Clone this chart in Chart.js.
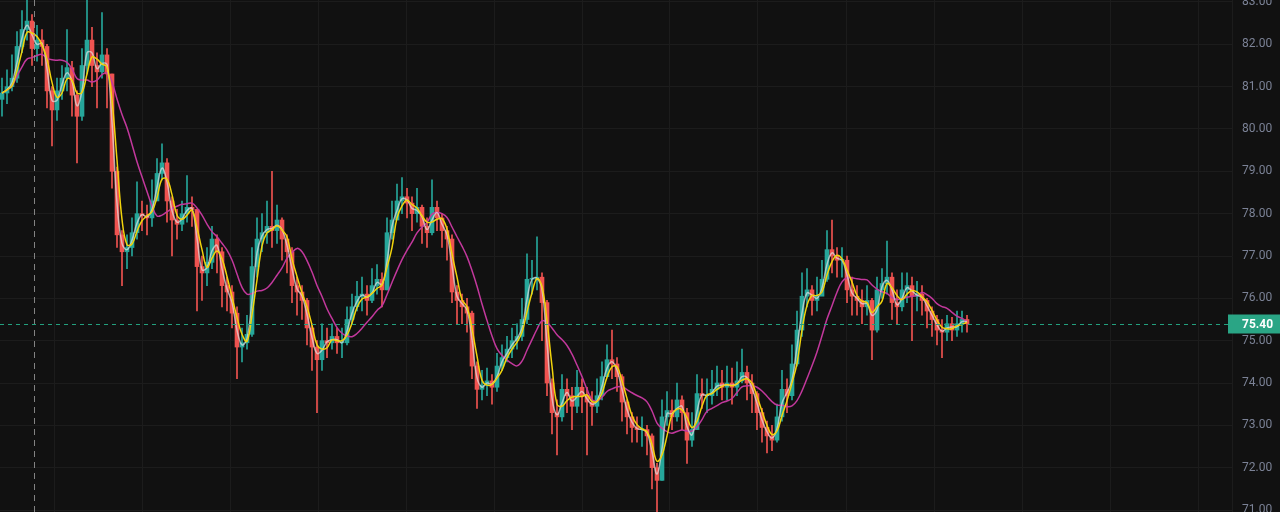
<!DOCTYPE html>
<html>
<head>
<meta charset="utf-8">
<script src="https://cdn.jsdelivr.net/npm/chart.js@4.4.0/dist/chart.umd.min.js"></script>
<style>
  html, body { margin: 0; padding: 0; background: #111111; }
  #wrap { width: 1280px; height: 512px; }
</style>
</head>
<body>
<div id="wrap"><canvas id="chart"></canvas></div>
<script>
// Candle data, one candle every 5px of the reference
const opens = [80.7, 80.85, 81.0, 81.2, 81.95, 82.35, 82.55, 81.9, 82.1, 81.95,
  80.9, 80.45, 80.9, 81.2, 81.45, 80.8, 80.3, 81.5, 82.1, 81.5,
  81.35, 81.75, 81.3, 79.0, 77.5, 77.1, 77.2, 77.55, 78.0, 77.95,
  77.9, 78.3, 78.95, 79.2, 78.3, 77.85, 77.75, 78.0, 78.15, 78.1,
  76.75, 76.6, 76.85, 77.4, 77.1, 76.3, 76.15, 75.65, 74.85, 74.95,
  75.15, 76.75, 77.4, 77.55, 77.7, 77.6, 77.85, 77.4, 77.1, 76.3,
  76.15, 75.95, 75.3, 74.85, 74.55, 75.0, 74.95, 75.1, 74.95, 74.95,
  75.5, 75.8, 76.05, 76.1, 75.95, 76.3, 76.45, 76.2, 77.55, 77.85,
  78.3, 78.4, 78.25, 78.0, 78.15, 77.7, 77.55, 78.15, 77.9, 77.6,
  77.4, 76.15, 75.95, 75.8, 75.65, 74.4, 73.85, 73.95, 74.05, 73.9,
  74.4, 74.6, 74.8, 75.0, 75.1, 75.5, 76.45, 76.45, 76.5, 75.9,
  74.0, 73.3, 73.2, 73.85, 73.7, 73.45, 73.9, 73.7, 73.55, 73.45,
  73.7, 74.15, 74.55, 74.45, 74.15, 73.55, 73.2, 72.95, 72.9, 72.9,
  72.75, 72.0, 71.7, 73.2, 73.35, 73.2, 73.6, 73.3, 72.65, 72.9,
  73.75, 73.7, 73.7, 73.85, 74.0, 73.9, 74.0, 73.9, 74.05, 74.25,
  74.0, 73.75, 73.3, 72.95, 72.75, 72.65, 73.2, 73.85, 73.7, 74.45,
  75.25, 76.05, 76.2, 75.95, 76.05, 76.45, 77.15, 77.0, 76.9, 76.9,
  76.2, 76.05, 75.95, 75.8, 75.95, 75.25, 76.2, 76.35, 76.5, 75.9,
  75.8, 76.2, 76.3, 76.05, 76.1, 75.95, 75.7, 75.5, 75.25, 75.2,
  75.4, 75.25, 75.4, 75.5];
const closes = [80.85, 81.0, 81.2, 81.95, 82.35, 82.55, 81.9, 82.1, 81.95, 80.9,
  80.45, 80.9, 81.2, 81.45, 80.8, 80.3, 81.5, 82.1, 81.5, 81.35,
  81.75, 81.3, 79.0, 77.5, 77.1, 77.2, 77.55, 78.0, 77.95, 77.9,
  78.3, 78.95, 79.2, 78.3, 77.85, 77.75, 78.0, 78.15, 78.1, 76.75,
  76.6, 76.85, 77.4, 77.1, 76.3, 76.15, 75.65, 74.85, 74.95, 75.15,
  76.75, 77.4, 77.55, 77.7, 77.6, 77.85, 77.4, 77.1, 76.3, 76.15,
  75.95, 75.3, 74.85, 74.55, 75.0, 74.95, 75.1, 74.95, 74.95, 75.5,
  75.8, 76.05, 76.1, 75.95, 76.3, 76.45, 76.2, 77.55, 77.85, 78.3,
  78.4, 78.25, 78.0, 78.15, 77.7, 77.55, 78.15, 77.9, 77.6, 77.4,
  76.15, 75.95, 75.8, 75.65, 74.4, 73.85, 73.95, 74.05, 73.9, 74.4,
  74.6, 74.8, 75.0, 75.1, 75.5, 76.45, 76.45, 76.5, 75.9, 74.0,
  73.3, 73.2, 73.85, 73.7, 73.45, 73.9, 73.7, 73.55, 73.45, 73.7,
  74.15, 74.55, 74.45, 74.15, 73.55, 73.2, 72.95, 72.9, 72.9, 72.75,
  72.0, 71.7, 73.2, 73.35, 73.2, 73.6, 73.3, 72.65, 72.9, 73.75,
  73.7, 73.7, 73.85, 74.0, 73.9, 74.0, 73.9, 74.05, 74.25, 74.0,
  73.75, 73.3, 72.95, 72.75, 72.65, 73.2, 73.85, 73.7, 74.45, 75.25,
  76.05, 76.2, 75.95, 76.05, 76.45, 77.15, 77.0, 76.9, 76.9, 76.2,
  76.05, 75.95, 75.8, 75.95, 75.25, 76.2, 76.35, 76.5, 75.9, 75.8,
  76.2, 76.3, 76.05, 76.1, 75.95, 75.7, 75.5, 75.25, 75.2, 75.4,
  75.25, 75.4, 75.5, 75.4];
const highs = [81.2, 81.4, 81.75, 82.3, 82.8, 83.05, 82.7, 82.45, 82.35, 82.0,
  81.0, 81.2, 81.5, 82.35, 81.6, 80.9, 81.9, 83.05, 82.4, 81.8,
  82.75, 81.9, 81.3, 79.1, 77.6, 77.5, 77.9, 78.75, 78.3, 78.2,
  78.8, 79.3, 79.65, 79.3, 78.4, 78.1, 78.3, 78.9, 78.4, 78.1,
  77.0, 77.2, 77.7, 77.5, 77.2, 76.5, 76.3, 75.8, 75.3, 75.6,
  77.2, 77.9, 78.0, 78.3, 79.0, 78.2, 77.9, 77.5, 77.2, 76.5,
  76.3, 76.0, 75.4, 75.0, 75.4, 75.3, 75.4, 75.3, 75.3, 75.8,
  76.1, 76.4, 76.5, 76.3, 76.7, 76.8, 76.6, 77.9, 78.3, 78.7,
  78.85, 78.6, 78.4, 78.6, 78.2, 77.9, 78.8, 78.3, 78.0, 77.7,
  77.5, 76.3, 76.1, 76.0, 75.7, 74.5, 74.3, 74.35, 74.2, 74.7,
  74.9, 75.1, 75.3, 75.4, 76.0, 77.05, 76.9, 77.45, 76.6, 75.95,
  74.1, 73.6, 74.2, 74.1, 73.9, 74.3, 74.1, 73.9, 73.8, 74.1,
  74.5, 74.9, 75.25, 74.6, 74.2, 73.6, 73.3, 73.2, 73.2, 73.0,
  72.8, 72.1, 73.6, 73.8, 73.6, 74.0, 73.7, 73.4, 73.3, 74.2,
  74.1, 74.1, 74.3, 74.4, 74.3, 74.4, 74.35, 74.5, 74.8, 74.4,
  74.2, 73.8, 73.4, 73.1, 73.0, 73.5, 74.3, 74.1, 74.9, 75.7,
  76.6, 76.7, 76.3, 76.5, 76.9, 77.6, 77.85, 77.2, 77.2, 77.0,
  76.5, 76.3, 76.2, 76.3, 76.0, 76.5, 76.7, 77.35, 76.6, 76.2,
  76.6, 76.6, 76.5, 76.4, 76.3, 76.0, 75.8, 75.6, 75.5, 75.6,
  75.55, 75.7, 75.7, 75.6];
const lows = [80.3, 80.6, 80.9, 81.1, 81.8, 82.1, 81.5, 81.6, 81.5, 80.5,
  79.6, 80.2, 80.7, 80.9, 80.3, 79.2, 80.2, 81.3, 81.0, 80.5,
  81.2, 80.5, 78.6, 77.2, 76.3, 76.7, 77.0, 77.4, 77.6, 77.5,
  77.7, 78.6, 78.8, 77.8, 77.0, 77.4, 77.6, 77.8, 77.7, 75.7,
  75.95, 76.3, 76.7, 76.6, 75.8, 75.7, 75.3, 74.1, 74.5, 74.8,
  75.1, 76.5, 77.1, 77.3, 77.2, 77.3, 76.9, 76.6, 75.9, 75.6,
  75.5, 74.9, 74.3, 73.3, 74.3, 74.6, 74.8, 74.7, 74.6, 74.9,
  75.4, 75.7, 75.7, 75.6, 75.9, 76.1, 75.8, 76.2, 77.4, 77.9,
  78.0, 77.9, 77.6, 77.8, 77.3, 77.2, 77.5, 77.6, 77.2, 76.9,
  75.9, 75.4, 75.4, 75.2, 74.1, 73.4, 73.6, 73.7, 73.5, 73.8,
  74.3, 74.5, 74.6, 74.8, 75.0, 75.4, 76.1, 76.2, 75.0, 73.7,
  72.8, 72.3, 73.1, 73.3, 72.9, 73.3, 73.3, 72.3, 73.0, 73.3,
  73.6, 74.2, 74.1, 73.8, 73.1, 72.8, 72.6, 72.6, 72.5, 72.3,
  71.5, 70.96, 71.7, 73.0, 72.9, 73.1, 72.9, 72.1, 72.5, 72.9,
  73.4, 73.3, 73.5, 73.7, 73.6, 73.6, 73.5, 73.7, 74.0, 73.6,
  73.3, 72.9, 72.6, 72.35, 72.4, 72.6, 73.1, 73.3, 73.6, 74.4,
  75.1, 75.8, 75.6, 75.7, 76.1, 76.4, 76.6, 76.5, 76.5, 75.9,
  75.6, 75.6, 75.4, 75.6, 74.55, 75.2, 76.0, 76.1, 75.5, 75.4,
  75.7, 75.9, 75.0, 75.7, 75.6, 75.3, 75.1, 74.9, 74.6, 75.0,
  75.0, 75.1, 75.2, 75.2];

const priceTicks = [71, 72, 73, 74, 75, 76, 77, 78, 79, 80, 81, 82, 83];
const gridIndexes = [10.4, 28.0, 45.6, 63.2, 80.8, 98.4, 116.0, 133.6, 151.2, 168.8, 186.4, 204.0, 221.6, 239.2];
const lastPrice = 75.40;
const crosshairIndex = 6.4;

const upColor = '#26a69a';
const downColor = '#ef5350';

// simple moving average, shorter window at the start
function sma(values, n) {
  return values.map((v, i) => {
    const part = values.slice(Math.max(0, i - n + 1), i + 1);
    return part.reduce((a, b) => a + b, 0) / part.length;
  });
}

function candleColor(ctx) {
  const i = ctx.dataIndex;
  return closes[i] >= opens[i] ? upColor : downColor;
}

function lineData(values) {
  return values.map((v, i) => ({ x: i, y: v }));
}

// no extra padding around the plot
function noPadding(scale) {
  scale.paddingTop = 0;
  scale.paddingBottom = 0;
  scale.paddingLeft = 0;
  scale.paddingRight = 0;
}

const overlays = {
  id: 'overlays',
  afterDraw(chart) {
    const ctx = chart.ctx;
    const area = chart.chartArea;
    const x = chart.scales.x;
    const y = chart.scales.y;
    ctx.save();

    // crosshair
    const cx = Math.round(x.getPixelForValue(crosshairIndex)) + 0.5;
    ctx.strokeStyle = 'rgba(160,160,160,0.8)';
    ctx.lineWidth = 1;
    ctx.setLineDash([6, 5]);
    ctx.beginPath();
    ctx.moveTo(cx, area.top);
    ctx.lineTo(cx, area.bottom);
    ctx.stroke();

    // last price line
    const py = Math.round(y.getPixelForValue(lastPrice)) + 0.5;
    ctx.strokeStyle = '#23a07e';
    ctx.setLineDash([4, 4]);
    ctx.beginPath();
    ctx.moveTo(area.left, py);
    ctx.lineTo(area.right, py);
    ctx.stroke();
    ctx.setLineDash([]);

    // last price label
    ctx.fillStyle = '#2aa585';
    ctx.fillRect(area.right - 4, py - 10, chart.width - area.right + 4, 19);
    ctx.fillStyle = '#ffffff';
    ctx.font = 'bold 12px Roboto';
    ctx.textBaseline = 'middle';
    ctx.textAlign = 'left';
    ctx.fillText(lastPrice.toFixed(2), area.right + 10, py);
    ctx.restore();
  }
};

new Chart(document.getElementById('chart'), {
  data: {
    datasets: [{
      type: 'bar',
      data: lows.map((l, i) => ({ x: i, y: [l, highs[i]] })),
      backgroundColor: candleColor,
      barThickness: 1,
      grouped: false,
      order: 5
    }, {
      type: 'bar',
      data: opens.map((o, i) => ({ x: i, y: [o, closes[i]] })),
      backgroundColor: candleColor,
      barThickness: 4,
      minBarLength: 1,
      grouped: false,
      order: 4
    }, {
      type: 'line',
      data: lineData(sma(closes, 10)),
      borderColor: '#c2389c',
      borderWidth: 1.5,
      pointRadius: 0,
      tension: 0.4,
      order: 3
    }, {
      type: 'line',
      data: lineData(sma(closes, 2)),
      borderColor: 'rgba(225,225,225,0.7)',
      borderWidth: 1.5,
      pointRadius: 0,
      tension: 0.4,
      order: 2
    }, {
      type: 'line',
      data: lineData(sma(closes, 3)),
      borderColor: '#f2d40c',
      borderWidth: 1.5,
      pointRadius: 0,
      tension: 0.4,
      order: 1
    }]
  },
  options: {
    responsive: true,
    maintainAspectRatio: false,
    animation: false,
    layout: { padding: 0 },
    plugins: { legend: { display: false }, tooltip: { enabled: false } },
    scales: {
      x: {
        type: 'linear',
        offset: false,
        min: -0.4,
        max: 246.0,
        afterBuildTicks: scale => { scale.ticks = gridIndexes.map(v => ({ value: v })); },
        afterFit: scale => { scale.height = 0; noPadding(scale); },
        ticks: { display: false },
        grid: { color: '#1c1c1c', drawTicks: false, offset: false },
        border: { display: false }
      },
      y: {
        position: 'right',
        min: 70.953,
        max: 83.047,
        afterBuildTicks: scale => { scale.ticks = priceTicks.map(v => ({ value: v })); },
        afterFit: scale => { scale.width = 48; noPadding(scale); },
        ticks: {
          color: '#7b8296',
          padding: 10,
          font: { family: 'Roboto', size: 12 },
          callback: v => v.toFixed(2)
        },
        grid: { color: '#1c1c1c', drawTicks: false },
        border: { display: true, color: '#1c1c1c' }
      }
    }
  },
  plugins: [overlays]
});
</script>
</body>
</html>
